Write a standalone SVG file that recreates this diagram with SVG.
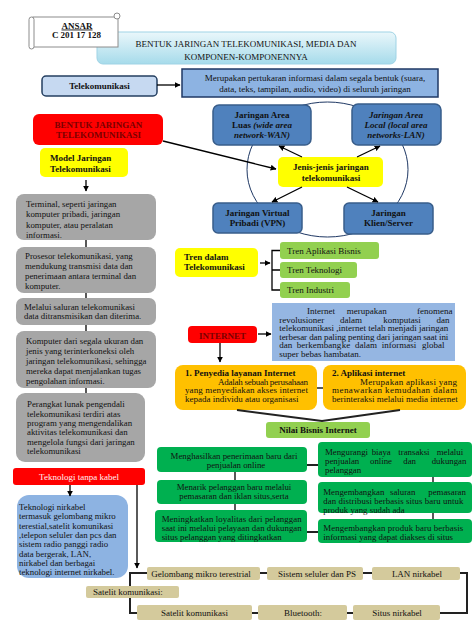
<svg xmlns="http://www.w3.org/2000/svg" width="474" height="632" viewBox="0 0 474 632">
<defs>
<linearGradient id="gTitle" x1="0" y1="0" x2="0" y2="1"><stop offset="0" stop-color="#eaf7fb"/><stop offset="1" stop-color="#a6dbeb"/></linearGradient>
<marker id="ah" viewBox="0 0 10 10" refX="9" refY="5" markerWidth="6" markerHeight="6" orient="auto" markerUnits="userSpaceOnUse"><path d="M0,0 L10,5 L0,10 z" fill="#000"/></marker>
</defs>
<style>
text{font-family:"Liberation Serif","Times New Roman",serif;fill:#111;font-size:9px}
.b{font-weight:bold}
.i{font-style:italic}
.c{text-anchor:middle}
.ln{stroke:#000;stroke-width:1.3;fill:none}
.lk{stroke:#222;stroke-width:2;fill:none}
.gray{fill:#a6a6a6}
.net{fill:#4f81bd;stroke:#385d8a;stroke-width:1.5}
.yel{fill:#ffff00}
.red{fill:#ff0000}
.lg{fill:#92d050}
.or{fill:#ffc000}
.gr{fill:#00b050}
.bl{fill:#8db3e2}
.tan{fill:#d4ca9c}
.dr{fill:#7a0000}
.g8 text{font-size:8.8px}
</style>

<g id="title">
<rect x="97" y="32" width="299" height="32" rx="6" fill="url(#gTitle)" stroke="#9fd3e5"/>
<text x="246" y="46.5" class="c" font-size="9.5">BENTUK JARINGAN TELEKOMUNIKASI, MEDIA DAN</text>
<text x="246" y="59.5" class="c" font-size="9.5">KOMPONEN-KOMPONENNYA</text>
</g>

<g id="ansar">
<rect x="33" y="17" width="85" height="30" fill="#fff" stroke="#8c8c8c"/>
<rect x="29" y="17" width="5" height="32" rx="2.5" fill="#fff" stroke="#8c8c8c"/>
<circle cx="117" cy="16" r="3" fill="#fff" stroke="#8c8c8c"/>
<text x="77" y="28.5" class="b c" font-size="9.5" text-decoration="underline">ANSAR</text>
<text x="76.5" y="38" class="b c" font-size="9.5">C 201 17 128</text>
</g>

<g id="telekomunikasi">
<rect x="42" y="76" width="115" height="20" rx="4" fill="#c6d9f1" stroke="#243f60" stroke-width="1.5"/>
<text x="99.5" y="89" class="b c" font-size="9.5">Telekomunikasi</text>
</g>

<g id="definisi">
<rect x="182" y="69" width="256" height="28" class="bl" stroke="#1f3864" stroke-width="1.5"/>
<text x="315" y="80.5" class="c">Merupakan  pertukaran informasi dalam segala bentuk (suara,</text>
<text x="315" y="91.5" class="c">data, teks, tampilan, audio, video) di seluruh jaringan</text>
</g>

<g id="lingkaran">
<ellipse cx="327.5" cy="169.5" rx="80.5" ry="67.5" fill="none" stroke="#1f3864" stroke-width="1"/>
</g>

<g id="wan">
<rect x="213" y="105" width="98" height="40" rx="6" class="net"/>
<text x="262" y="118" class="b c" font-size="9.5">Jaringan Area</text>
<text x="262" y="128" class="b c" font-size="9.5">Luas <tspan class="i">(wide area</tspan></text>
<text x="262" y="138" class="b c i" font-size="9.5">network-WAN)</text>
</g>

<g id="lan">
<rect x="352" y="104" width="89" height="41" rx="6" class="net"/>
<text x="396" y="117.5" class="b c i" font-size="9.5">Jaringan Area</text>
<text x="396" y="128" class="b c i" font-size="9.5">Local (local area</text>
<text x="396" y="138" class="b c i" font-size="9.5">networks-LAN)</text>
</g>

<g id="jenis">
<rect x="278" y="157" width="105" height="30" rx="5" class="yel"/>
<text x="331" y="170" class="b c" font-size="9.5">Jenis-jenis jaringan</text>
<text x="331" y="180.5" class="b c" font-size="9.5">telekomunikasi</text>
</g>

<g id="vpn">
<rect x="213" y="203" width="89" height="30" rx="5" class="net"/>
<text x="257.5" y="216" class="b c" font-size="9.5">Jaringan Virtual</text>
<text x="257.5" y="226" class="b c" font-size="9.5">Pribadi (VPN)</text>
</g>

<g id="klien">
<rect x="344" y="203" width="89" height="31" rx="5" class="net"/>
<text x="388.5" y="216" class="b c" font-size="9.5">Jaringan</text>
<text x="388.5" y="226" class="b c" font-size="9.5">Klien/Server</text>
</g>

<g id="bentuk">
<rect x="33" y="114" width="130" height="31" rx="6" class="red"/>
<text x="98.5" y="128" class="b c dr" font-size="9.5">BENTUK JARINGAN</text>
<text x="98.5" y="137.5" class="b c dr" font-size="9.5">TELEKOMUNIKASI</text>
</g>

<g id="model">
<rect x="40" y="148" width="88" height="29" rx="5" class="yel"/>
<text x="50" y="161" class="b" font-size="9.5">Model Jaringan</text>
<text x="50" y="171.5" class="b" font-size="9.5">Telekomunikasi</text>
</g>

<g id="terminal" class="g8">
<rect x="16" y="194" width="140" height="46" rx="8" class="gray"/>
<text x="26" y="206.5">Terminal, seperti jaringan</text>
<text x="26" y="217">komputer pribadi, jaringan</text>
<text x="26" y="227.5">komputer, atau peralatan</text>
<text x="26" y="237.5">informasi.</text>
</g>

<g id="prosesor" class="g8">
<rect x="16" y="247" width="140" height="46" rx="8" class="gray"/>
<text x="25" y="258.7">Prosesor telekomunikasi, yang</text>
<text x="25" y="269">mendukung transmisi data dan</text>
<text x="25" y="278.7">penerimaan antara terminal dan</text>
<text x="25" y="288.5">komputer.</text>
</g>

<g id="saluran" class="g8">
<rect x="16" y="298" width="140" height="27" rx="7" class="gray"/>
<text x="24" y="310">Melalui saluran telekomunikasi</text>
<text x="24" y="319">data ditransmisikan dan diterima.</text>
</g>

<g id="komputer" class="g8">
<rect x="16" y="331" width="140" height="57" rx="8" class="gray"/>
<text x="26" y="344">Komputer dari segala ukuran dan</text>
<text x="26" y="354">jenis yang terinterkoneksi oleh</text>
<text x="26" y="363.7">jaringan telekomunikasi, sehingga</text>
<text x="26" y="373.5">mereka dapat menjalankan tugas</text>
<text x="26" y="383.5">pengolahan informasi.</text>
</g>

<g id="perangkat" class="g8">
<rect x="16" y="393" width="129" height="69" rx="9" class="gray"/>
<text x="27" y="407">Perangkat lunak pengendali</text>
<text x="27" y="416.5">telekomunikasi terdiri atas</text>
<text x="27" y="426">program yang mengendalikan</text>
<text x="27" y="435">aktivitas telekomunikasi dan</text>
<text x="27" y="444.5">mengelola fungsi dari jaringan</text>
<text x="27" y="454">telekomunikasi</text>
</g>

<g id="tanpakabel">
<rect x="13" y="468" width="132" height="17" rx="3" class="red"/>
<text x="79" y="480" class="c" font-size="8.8" style="fill:#fff0f0">Teknologi tanpa kabel</text>
</g>

<g id="nirkabel" class="g8">
<rect x="17" y="495" width="111" height="83" rx="12" class="bl"/>
<text x="19" y="510">Teknologi nirkabel</text>
<text x="19" y="519.3">termasuk gelombang mikro</text>
<text x="19" y="528.6">terestial,satelit komunikasi</text>
<text x="19" y="537.9">,telepon seluler dan pcs dan</text>
<text x="19" y="547.2">sistem radio panggi radio</text>
<text x="19" y="556.5">data bergerak, LAN,</text>
<text x="19" y="565.8">nirkabel dan berbagai</text>
<text x="19" y="575.1">teknologi internet nirkabel.</text>
</g>

<g id="tren">
<rect x="175" y="248" width="83" height="29" rx="5" class="yel"/>
<text x="184" y="260" class="b" font-size="9.5">Tren dalam</text>
<text x="184" y="269.5" class="b" font-size="9.5">Telekomunikasi</text>
</g>
<g id="tren-bisnis">
<rect x="280" y="242" width="99" height="17" rx="3" class="lg"/>
<text x="287" y="253.5">Tren Aplikasi Bisnis</text>
</g>
<g id="tren-teknologi">
<rect x="280" y="262" width="77" height="16" rx="3" class="lg"/>
<text x="287" y="273">Tren Teknologi</text>
</g>
<g id="tren-industri">
<rect x="280" y="282" width="70" height="16" rx="3" class="lg"/>
<text x="287" y="293">Tren Industri</text>
</g>

<g id="internet-def">
<rect x="272" y="303" width="183" height="58" fill="#95b6e2"/>
<text y="314"><tspan x="307">Internet</tspan><tspan x="346.7">merupakan</tspan><tspan x="417">fenomena</tspan></text>
<text y="322.5"><tspan x="279.3">revolusioner</tspan><tspan x="340">dalam</tspan><tspan x="383.3">komputasi</tspan><tspan x="436.5">dan</tspan></text>
<text x="279.3" y="331" textLength="169" lengthAdjust="spacing">telekomunikasi ,internet telah menjadi jaringan</text>
<text x="279.3" y="339.5" textLength="169" lengthAdjust="spacing">terbesar dan paling penting dari jaringan saat ini</text>
<text y="348"><tspan x="279.3">dan</tspan><tspan x="296.7">berkembang</tspan><tspan x="341.7">ke</tspan><tspan x="355">dalam</tspan><tspan x="381.7">informasi</tspan><tspan x="422">global</tspan></text>
<text x="279.3" y="356.5">super bebas hambatan.</text>
</g>

<g id="internet">
<rect x="188" y="326" width="69" height="17" rx="4" class="red"/>
<text x="222.5" y="338.5" class="b c dr" font-size="9.5">INTERNET</text>
</g>

<g id="penyedia">
<rect x="175" y="365" width="142" height="45" rx="8" class="or"/>
<text x="185" y="376" class="b" font-size="9.2">1.  Penyedia layanan Internet</text>
<text x="218" y="384.8" textLength="90" lengthAdjust="spacing" font-size="8.8">Adalah sebuah perusahaan</text>
<text x="185" y="393.4" textLength="123" lengthAdjust="spacing" font-size="8.8">yang menyediakan akses internet</text>
<text x="185" y="402" font-size="8.8">kepada individu atau organisasi</text>
</g>

<g id="aplikasi">
<rect x="323" y="365" width="143" height="45" rx="8" class="or"/>
<text x="332" y="376" class="b" font-size="9.2">2. Aplikasi internet</text>
<text x="360" y="384.8" textLength="97" lengthAdjust="spacing" font-size="8.8">Merupakan aplikasi yang</text>
<text x="332" y="393.4" textLength="125" lengthAdjust="spacing" font-size="8.8">menawarkan kemudahan dalam</text>
<text x="332" y="402" font-size="8.8">berinteraksi melalui media internet</text>
</g>

<g id="nilai">
<rect x="266" y="422" width="104" height="16" rx="3" class="lg"/>
<text x="318" y="433.3" class="b c" font-size="9.3">Nilai Bisnis Internet</text>
</g>

<g id="l1" class="g8">
<rect x="157" y="447" width="150" height="25" rx="4" class="gr"/>
<text x="234" y="459" class="c">Menghasilkan penerimaan baru dari</text>
<text x="236" y="468" class="c">penjualan online</text>
</g>
<g id="l2" class="g8">
<rect x="157" y="480" width="150" height="24" rx="4" class="gr"/>
<text x="234" y="490" class="c">Menarik pelanggan baru melalui</text>
<text x="234" y="499" class="c">pemasaran dan iklan situs,serta</text>
</g>
<g id="l3" class="g8">
<rect x="155" y="510" width="152" height="32" rx="4" class="gr"/>
<text x="161.7" y="522" textLength="140" lengthAdjust="spacing">Meningkatkan loyalitas dari pelanggan</text>
<text x="161.7" y="531" textLength="140" lengthAdjust="spacing">saat ini melalui pelayaan dan dukungan</text>
<text x="161.7" y="540">situs pelanggan yang ditingkatkan</text>
</g>
<g id="r1" class="g8">
<rect x="318" y="442" width="154" height="35" rx="4" class="gr"/>
<text y="455"><tspan x="325">Mengurangi</tspan><tspan x="371.7">biaya</tspan><tspan x="398.3">transaksi</tspan><tspan x="436.7">melalui</tspan></text>
<text y="464"><tspan x="325">penjualan</tspan><tspan x="370">online</tspan><tspan x="403.3">dan</tspan><tspan x="431.7">dukungan</tspan></text>
<text x="325" y="472.5">pelanggan</text>
</g>
<g id="r2" class="g8">
<rect x="318" y="482" width="154" height="31" rx="4" class="gr"/>
<text y="495"><tspan x="323.3">Mengembangkan</tspan><tspan x="390">saluran</tspan><tspan x="428.3">pemasaran</tspan></text>
<text x="323.3" y="504" textLength="140" lengthAdjust="spacing">dan distribusi berbasis situs baru untuk</text>
<text x="323.3" y="512.5">produk yang sudah ada</text>
</g>
<g id="r3" class="g8">
<rect x="318" y="519" width="154" height="24" rx="4" class="gr"/>
<text x="323.3" y="531" textLength="140" lengthAdjust="spacing">Mengembangkan produk baru berbasis</text>
<text x="323.3" y="540">informasi yang dapat diakses di situs</text>
</g>

<g id="gelombang">
<rect x="147" y="567" width="113" height="13" rx="2" class="tan"/>
<text x="201" y="576.5" class="c" font-size="8.6">Gelombang mikro terestrial</text>
</g>
<g id="seluler">
<rect x="267" y="567" width="96" height="13" rx="2" class="tan"/>
<text x="317" y="576.5" class="c" font-size="8.6">Sistem seluler dan PS</text>
</g>
<g id="lan-nirkabel">
<rect x="372" y="567" width="88" height="13" rx="2" class="tan"/>
<text x="417" y="576.5" class="c" font-size="8.6">LAN nirkabel</text>
</g>

<g id="connectors">
<line x1="157" y1="85" x2="180" y2="85" class="ln" marker-end="url(#ah)"/>
<line x1="163" y1="141" x2="276" y2="169" class="ln" marker-end="url(#ah)"/>
<line x1="302" y1="157" x2="279" y2="146" class="ln" marker-end="url(#ah)"/>
<line x1="357" y1="157" x2="380" y2="146" class="ln" marker-end="url(#ah)"/>
<line x1="302" y1="187" x2="272" y2="202" class="ln" marker-end="url(#ah)"/>
<line x1="347" y1="187" x2="378" y2="202" class="ln" marker-end="url(#ah)"/>
<line x1="86" y1="180" x2="86" y2="191" class="ln" marker-end="url(#ah)"/>
<path d="M86,240V247M86,293V298M86,325V331M86,388V393" class="ln"/>
<line x1="70" y1="485" x2="70" y2="496" class="ln" marker-end="url(#ah)"/>
<line x1="137" y1="485" x2="137" y2="568" class="ln" marker-end="url(#ah)"/>
<path d="M147,573H130V613H137" class="lk"/>
<path d="M460,573H467V613H440" class="lk"/>
<path d="M260,573H267M363,573H372M252,613H258M347,613H353" class="lk"/>
<line x1="260" y1="263" x2="270" y2="263" class="ln" marker-end="url(#ah)"/>
<path d="M280,250.5H272V290H280M272,270H280" class="ln"/>
<line x1="258" y1="334" x2="271" y2="334" class="ln" marker-end="url(#ah)"/>
<line x1="220" y1="343" x2="220" y2="362" class="ln" marker-end="url(#ah)"/>
<line x1="317" y1="388" x2="323" y2="388" class="ln"/>
<path d="M237,410L322,421L400,410" class="lk"/>
<path d="M307,465H318M307,532H318" class="lk"/>
<path d="M235,472V480M235,504V510M433,477V482M433,513V519" class="ln"/>
</g>

<g id="satelit-label">
<rect x="86" y="586" width="93" height="12" rx="2" class="tan"/>
<text x="93" y="595" font-size="8.6">Satelit komunikasi:</text>
</g>
<g id="satelit">
<rect x="137" y="605" width="115" height="15" rx="2" class="tan"/>
<text x="194.5" y="615.5" class="c" font-size="8.6">Satelit komunikasi</text>
</g>
<g id="bluetooth">
<rect x="258" y="605" width="89" height="15" rx="2" class="tan"/>
<text x="303" y="615.5" class="c" font-size="8.6">Bluetooth:</text>
</g>
<g id="situs">
<rect x="353" y="605" width="87" height="15" rx="2" class="tan"/>
<text x="397" y="615.5" class="c" font-size="8.6">Situs nirkabel</text>
</g>
</svg>
